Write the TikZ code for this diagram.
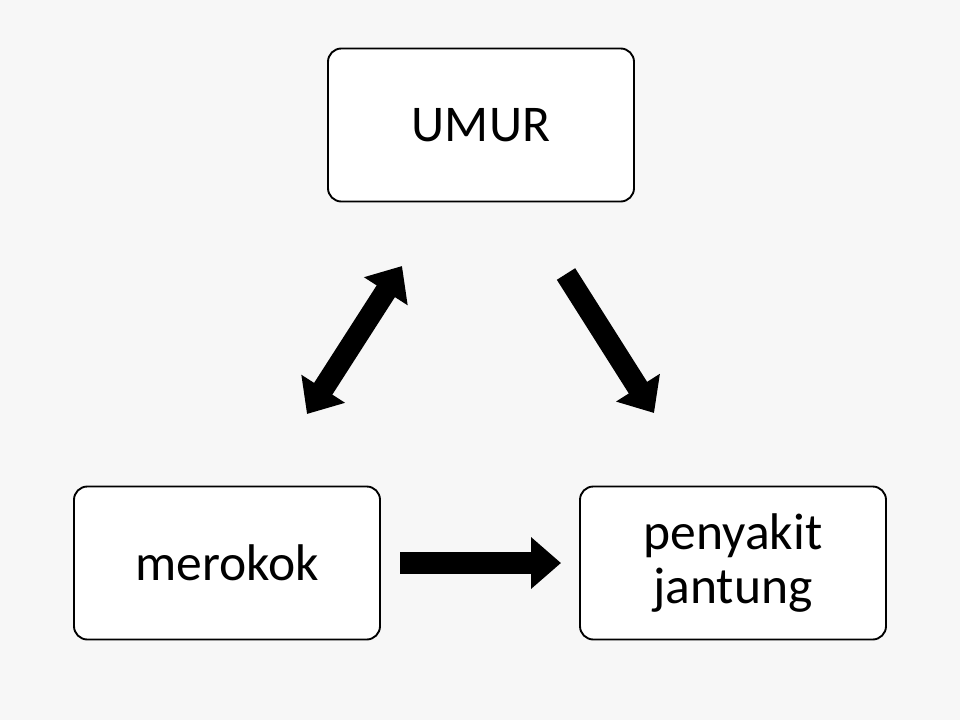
\documentclass[tikz,border=0pt]{standalone}
\usepackage{fontspec}
\setmainfont{Carlito}
\usetikzlibrary{arrows.meta}
\definecolor{bg}{RGB}{247,247,247}
\begin{document}
\begin{tikzpicture}[x=0.03cm,y=-0.03cm,
  box/.style={draw,line width=1.6pt,rounded corners=0.4cm,fill=white,minimum width=306*0.03cm,minimum height=153*0.03cm,align=center,font=\fontsize{44}{46}\selectfont},
  big/.style={line width=0.65cm,-{Triangle[length=0.9cm,width=1.5cm]}},
  bigb/.style={line width=0.65cm,{Triangle[length=0.9cm,width=1.5cm]}-{Triangle[length=0.9cm,width=1.5cm]}}]
\fill[bg] (0,0) rectangle (960,720);
\useasboundingbox (0,0) rectangle (960,720);
\node[box] (umur) at (481,125) {UMUR};
\node[box] (mer) at (227,563) {merokok};
\node[box] (pj) at (733,563) {penyakit\\jantung};
\coordinate (a1) at (400,563); \coordinate (a2) at (561,563);
\coordinate (b1) at (307,414); \coordinate (b2) at (402,266);
\coordinate (c1) at (566,274); \coordinate (c2) at (654,413);
\draw[big] (a1) -- (a2);
\draw[bigb] (b1) -- (b2);
\draw[big] (c1) -- (c2);
\end{tikzpicture}
\end{document}
